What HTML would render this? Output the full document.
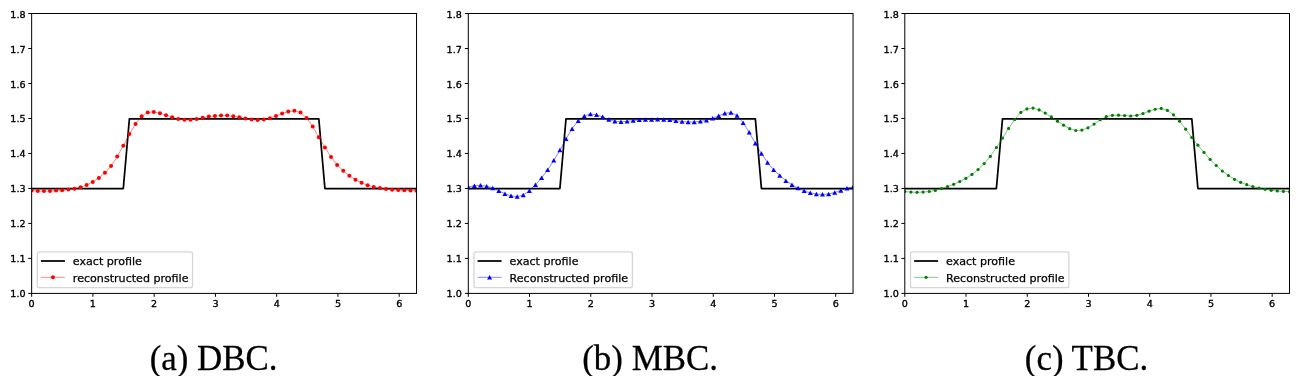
<!DOCTYPE html>
<html><head><meta charset="utf-8"><title>Reconstructed profiles</title>
<style>
html,body{margin:0;padding:0;background:#fff;}
body{width:1300px;height:376px;overflow:hidden;position:relative;}
svg{position:absolute;left:0;top:0;display:block;}
.t{font-family:"DejaVu Sans","Liberation Sans",sans-serif;font-size:9.6px;fill:#000;stroke:#000;stroke-width:0.35px;}
.l{font-family:"DejaVu Sans","Liberation Sans",sans-serif;font-size:11.1px;fill:#000;stroke:#000;stroke-width:0.25px;}
.c{font-family:"Liberation Serif","Times New Roman",serif;font-size:34.9px;fill:#000;stroke:#000;stroke-width:0.25px;}
</style></head><body>
<svg width="1300" height="376" viewBox="0 0 1300 376">
<rect width="1300" height="376" fill="#fff"/>

<g>
<clipPath id="c31"><rect x="31.65" y="13.5" width="384.9" height="279.9"/></clipPath>
<g clip-path="url(#c31)">
<polyline fill="none" stroke="#000" stroke-width="1.75" stroke-linejoin="round" points="31.65,188.5 123.29,188.5 129.4,118.75 318.8,118.75 324.91,188.5 416.55,188.5"/>
<polyline fill="none" stroke="#ff0000" stroke-width="0.48" points="31.65,190.6 37.76,190.97 43.87,191.1 49.98,191 56.09,190.6 62.2,190.2 68.31,189.6 74.42,188.7 80.53,187.2 86.64,185 92.75,181.9 98.85,177.9 104.96,172.7 111.07,166 117.18,156.5 123.29,145.8 129.4,134 135.51,123.9 141.62,116.3 147.73,112.4 153.84,112 159.95,113.2 166.06,115.3 172.17,117.2 178.28,119 184.39,119.8 190.5,119.8 196.61,119 202.72,117.7 208.83,116.6 214.94,116 221.05,115.6 227.15,115.6 233.26,116.3 239.37,117.2 245.48,118.5 251.59,119.6 257.7,119.9 263.81,119.5 269.92,118.2 276.03,116 282.14,113.6 288.25,111.6 294.36,110.8 300.47,112.4 306.58,118 312.69,126.6 318.8,137.2 324.91,147.5 331.02,156.9 337.13,164.9 343.24,170.8 349.35,175.8 355.45,179.75 361.56,182.8 367.67,185.3 373.78,186.9 379.89,188.05 386,189 392.11,189.65 398.22,190.1 404.33,190.3 410.44,190.45 416.55,190.8"/>
<circle cx="31.65" cy="190.6" r="2.0" fill="#ff0000"/>
<circle cx="37.76" cy="190.97" r="2.0" fill="#ff0000"/>
<circle cx="43.87" cy="191.1" r="2.0" fill="#ff0000"/>
<circle cx="49.98" cy="191" r="2.0" fill="#ff0000"/>
<circle cx="56.09" cy="190.6" r="2.0" fill="#ff0000"/>
<circle cx="62.2" cy="190.2" r="2.0" fill="#ff0000"/>
<circle cx="68.31" cy="189.6" r="2.0" fill="#ff0000"/>
<circle cx="74.42" cy="188.7" r="2.0" fill="#ff0000"/>
<circle cx="80.53" cy="187.2" r="2.0" fill="#ff0000"/>
<circle cx="86.64" cy="185" r="2.0" fill="#ff0000"/>
<circle cx="92.75" cy="181.9" r="2.0" fill="#ff0000"/>
<circle cx="98.85" cy="177.9" r="2.0" fill="#ff0000"/>
<circle cx="104.96" cy="172.7" r="2.0" fill="#ff0000"/>
<circle cx="111.07" cy="166" r="2.0" fill="#ff0000"/>
<circle cx="117.18" cy="156.5" r="2.0" fill="#ff0000"/>
<circle cx="123.29" cy="145.8" r="2.0" fill="#ff0000"/>
<circle cx="129.4" cy="134" r="2.0" fill="#ff0000"/>
<circle cx="135.51" cy="123.9" r="2.0" fill="#ff0000"/>
<circle cx="141.62" cy="116.3" r="2.0" fill="#ff0000"/>
<circle cx="147.73" cy="112.4" r="2.0" fill="#ff0000"/>
<circle cx="153.84" cy="112" r="2.0" fill="#ff0000"/>
<circle cx="159.95" cy="113.2" r="2.0" fill="#ff0000"/>
<circle cx="166.06" cy="115.3" r="2.0" fill="#ff0000"/>
<circle cx="172.17" cy="117.2" r="2.0" fill="#ff0000"/>
<circle cx="178.28" cy="119" r="2.0" fill="#ff0000"/>
<circle cx="184.39" cy="119.8" r="2.0" fill="#ff0000"/>
<circle cx="190.5" cy="119.8" r="2.0" fill="#ff0000"/>
<circle cx="196.61" cy="119" r="2.0" fill="#ff0000"/>
<circle cx="202.72" cy="117.7" r="2.0" fill="#ff0000"/>
<circle cx="208.83" cy="116.6" r="2.0" fill="#ff0000"/>
<circle cx="214.94" cy="116" r="2.0" fill="#ff0000"/>
<circle cx="221.05" cy="115.6" r="2.0" fill="#ff0000"/>
<circle cx="227.15" cy="115.6" r="2.0" fill="#ff0000"/>
<circle cx="233.26" cy="116.3" r="2.0" fill="#ff0000"/>
<circle cx="239.37" cy="117.2" r="2.0" fill="#ff0000"/>
<circle cx="245.48" cy="118.5" r="2.0" fill="#ff0000"/>
<circle cx="251.59" cy="119.6" r="2.0" fill="#ff0000"/>
<circle cx="257.7" cy="119.9" r="2.0" fill="#ff0000"/>
<circle cx="263.81" cy="119.5" r="2.0" fill="#ff0000"/>
<circle cx="269.92" cy="118.2" r="2.0" fill="#ff0000"/>
<circle cx="276.03" cy="116" r="2.0" fill="#ff0000"/>
<circle cx="282.14" cy="113.6" r="2.0" fill="#ff0000"/>
<circle cx="288.25" cy="111.6" r="2.0" fill="#ff0000"/>
<circle cx="294.36" cy="110.8" r="2.0" fill="#ff0000"/>
<circle cx="300.47" cy="112.4" r="2.0" fill="#ff0000"/>
<circle cx="306.58" cy="118" r="2.0" fill="#ff0000"/>
<circle cx="312.69" cy="126.6" r="2.0" fill="#ff0000"/>
<circle cx="318.8" cy="137.2" r="2.0" fill="#ff0000"/>
<circle cx="324.91" cy="147.5" r="2.0" fill="#ff0000"/>
<circle cx="331.02" cy="156.9" r="2.0" fill="#ff0000"/>
<circle cx="337.13" cy="164.9" r="2.0" fill="#ff0000"/>
<circle cx="343.24" cy="170.8" r="2.0" fill="#ff0000"/>
<circle cx="349.35" cy="175.8" r="2.0" fill="#ff0000"/>
<circle cx="355.45" cy="179.75" r="2.0" fill="#ff0000"/>
<circle cx="361.56" cy="182.8" r="2.0" fill="#ff0000"/>
<circle cx="367.67" cy="185.3" r="2.0" fill="#ff0000"/>
<circle cx="373.78" cy="186.9" r="2.0" fill="#ff0000"/>
<circle cx="379.89" cy="188.05" r="2.0" fill="#ff0000"/>
<circle cx="386" cy="189" r="2.0" fill="#ff0000"/>
<circle cx="392.11" cy="189.65" r="2.0" fill="#ff0000"/>
<circle cx="398.22" cy="190.1" r="2.0" fill="#ff0000"/>
<circle cx="404.33" cy="190.3" r="2.0" fill="#ff0000"/>
<circle cx="410.44" cy="190.45" r="2.0" fill="#ff0000"/>
<circle cx="416.55" cy="190.8" r="2.0" fill="#ff0000"/>
</g>
<rect x="31.65" y="13.5" width="384.9" height="279.9" fill="none" stroke="#000" stroke-width="1"/>
<line x1="31.65" y1="293.4" x2="31.65" y2="296.8" stroke="#000" stroke-width="1"/>
<text class="t" transform="translate(31.65 307.25) scale(1 0.925)" text-anchor="middle">0</text>
<line x1="92.91" y1="293.4" x2="92.91" y2="296.8" stroke="#000" stroke-width="1"/>
<text class="t" transform="translate(92.91 307.25) scale(1 0.925)" text-anchor="middle">1</text>
<line x1="154.17" y1="293.4" x2="154.17" y2="296.8" stroke="#000" stroke-width="1"/>
<text class="t" transform="translate(154.17 307.25) scale(1 0.925)" text-anchor="middle">2</text>
<line x1="215.43" y1="293.4" x2="215.43" y2="296.8" stroke="#000" stroke-width="1"/>
<text class="t" transform="translate(215.43 307.25) scale(1 0.925)" text-anchor="middle">3</text>
<line x1="276.68" y1="293.4" x2="276.68" y2="296.8" stroke="#000" stroke-width="1"/>
<text class="t" transform="translate(276.68 307.25) scale(1 0.925)" text-anchor="middle">4</text>
<line x1="337.94" y1="293.4" x2="337.94" y2="296.8" stroke="#000" stroke-width="1"/>
<text class="t" transform="translate(337.94 307.25) scale(1 0.925)" text-anchor="middle">5</text>
<line x1="399.2" y1="293.4" x2="399.2" y2="296.8" stroke="#000" stroke-width="1"/>
<text class="t" transform="translate(399.2 307.25) scale(1 0.925)" text-anchor="middle">6</text>
<line x1="28.25" y1="293.4" x2="31.65" y2="293.4" stroke="#000" stroke-width="1"/>
<text class="t" transform="translate(25.55 297.05) scale(1 0.925)" text-anchor="end">1.0</text>
<line x1="28.25" y1="258.41" x2="31.65" y2="258.41" stroke="#000" stroke-width="1"/>
<text class="t" transform="translate(25.55 262.14) scale(1 0.925)" text-anchor="end">1.1</text>
<line x1="28.25" y1="223.43" x2="31.65" y2="223.43" stroke="#000" stroke-width="1"/>
<text class="t" transform="translate(25.55 227.23) scale(1 0.925)" text-anchor="end">1.2</text>
<line x1="28.25" y1="188.44" x2="31.65" y2="188.44" stroke="#000" stroke-width="1"/>
<text class="t" transform="translate(25.55 192.31) scale(1 0.925)" text-anchor="end">1.3</text>
<line x1="28.25" y1="153.45" x2="31.65" y2="153.45" stroke="#000" stroke-width="1"/>
<text class="t" transform="translate(25.55 157.4) scale(1 0.925)" text-anchor="end">1.4</text>
<line x1="28.25" y1="118.46" x2="31.65" y2="118.46" stroke="#000" stroke-width="1"/>
<text class="t" transform="translate(25.55 122.49) scale(1 0.925)" text-anchor="end">1.5</text>
<line x1="28.25" y1="83.47" x2="31.65" y2="83.47" stroke="#000" stroke-width="1"/>
<text class="t" transform="translate(25.55 87.57) scale(1 0.925)" text-anchor="end">1.6</text>
<line x1="28.25" y1="48.49" x2="31.65" y2="48.49" stroke="#000" stroke-width="1"/>
<text class="t" transform="translate(25.55 52.66) scale(1 0.925)" text-anchor="end">1.7</text>
<line x1="28.25" y1="13.5" x2="31.65" y2="13.5" stroke="#000" stroke-width="1"/>
<text class="t" transform="translate(25.55 17.75) scale(1 0.925)" text-anchor="end">1.8</text>
<rect x="37.35" y="251.95" width="155.2" height="35.7" rx="2.2" ry="2.2" fill="#fff" fill-opacity="0.8" stroke="#ccc" stroke-opacity="0.8" stroke-width="1.3"/>
<line x1="40.95" y1="261" x2="64.95" y2="261" stroke="#000" stroke-width="1.75"/>
<line x1="40.95" y1="277.3" x2="64.95" y2="277.3" stroke="#ff0000" stroke-width="0.48"/>
<circle cx="52.95" cy="277.3" r="2.0" fill="#ff0000"/>
<text class="l" x="72.85" y="265.2">exact profile</text>
<text class="l" x="72.85" y="281.5">reconstructed profile</text>
<text class="c" transform="translate(213.6 369.8) scale(1 1.02)" x="0" y="0" text-anchor="middle">(a) DBC.</text>
</g>
<g>
<clipPath id="c468"><rect x="468.3" y="13.5" width="384.75" height="279.9"/></clipPath>
<g clip-path="url(#c468)">
<polyline fill="none" stroke="#000" stroke-width="1.75" stroke-linejoin="round" points="468.3,188.5 559.91,188.5 566.01,118.75 755.34,118.75 761.44,188.5 853.05,188.5"/>
<polyline fill="none" stroke="#0000ff" stroke-width="0.48" points="468.3,187 474.41,185.7 480.51,185.4 486.62,186.2 492.73,188 498.84,190.8 504.94,193.7 511.05,195.9 517.16,196.6 523.26,195 529.37,190.8 535.48,184.9 541.59,177.9 547.69,169.8 553.8,160.4 559.91,150.1 566.01,138.8 572.12,128.7 578.23,120.7 584.34,116 590.44,114 596.55,114.8 602.66,116.9 608.76,119.6 614.87,121.2 620.98,121.85 627.09,121.4 633.19,120.6 639.3,119.9 645.41,119.6 651.51,119.5 657.62,119.3 663.73,119.5 669.84,119.9 675.94,120.7 682.05,121.5 688.16,122 694.26,122 700.37,121.4 706.48,120.3 712.59,118.3 718.69,115.8 724.8,113.4 730.91,112.6 737.01,115.6 743.12,122.7 749.23,132.4 755.34,143.2 761.44,153.6 767.55,162.5 773.66,169.9 779.76,175.6 785.87,180.7 791.98,184.9 798.09,188.1 804.19,190.9 810.3,192.9 816.41,194.1 822.51,194.4 828.62,194 834.73,192.5 840.84,190.5 846.94,188.2 853.05,187"/>
<path d="M468.3 184.7L465.8 189.2L470.8 189.2Z" fill="#0000ff"/>
<path d="M474.41 183.4L471.91 187.9L476.91 187.9Z" fill="#0000ff"/>
<path d="M480.51 183.1L478.01 187.6L483.01 187.6Z" fill="#0000ff"/>
<path d="M486.62 183.9L484.12 188.4L489.12 188.4Z" fill="#0000ff"/>
<path d="M492.73 185.7L490.23 190.2L495.23 190.2Z" fill="#0000ff"/>
<path d="M498.84 188.5L496.34 193L501.34 193Z" fill="#0000ff"/>
<path d="M504.94 191.4L502.44 195.9L507.44 195.9Z" fill="#0000ff"/>
<path d="M511.05 193.6L508.55 198.1L513.55 198.1Z" fill="#0000ff"/>
<path d="M517.16 194.3L514.66 198.8L519.66 198.8Z" fill="#0000ff"/>
<path d="M523.26 192.7L520.76 197.2L525.76 197.2Z" fill="#0000ff"/>
<path d="M529.37 188.5L526.87 193L531.87 193Z" fill="#0000ff"/>
<path d="M535.48 182.6L532.98 187.1L537.98 187.1Z" fill="#0000ff"/>
<path d="M541.59 175.6L539.09 180.1L544.09 180.1Z" fill="#0000ff"/>
<path d="M547.69 167.5L545.19 172L550.19 172Z" fill="#0000ff"/>
<path d="M553.8 158.1L551.3 162.6L556.3 162.6Z" fill="#0000ff"/>
<path d="M559.91 147.8L557.41 152.3L562.41 152.3Z" fill="#0000ff"/>
<path d="M566.01 136.5L563.51 141L568.51 141Z" fill="#0000ff"/>
<path d="M572.12 126.4L569.62 130.9L574.62 130.9Z" fill="#0000ff"/>
<path d="M578.23 118.4L575.73 122.9L580.73 122.9Z" fill="#0000ff"/>
<path d="M584.34 113.7L581.84 118.2L586.84 118.2Z" fill="#0000ff"/>
<path d="M590.44 111.7L587.94 116.2L592.94 116.2Z" fill="#0000ff"/>
<path d="M596.55 112.5L594.05 117L599.05 117Z" fill="#0000ff"/>
<path d="M602.66 114.6L600.16 119.1L605.16 119.1Z" fill="#0000ff"/>
<path d="M608.76 117.3L606.26 121.8L611.26 121.8Z" fill="#0000ff"/>
<path d="M614.87 118.9L612.37 123.4L617.37 123.4Z" fill="#0000ff"/>
<path d="M620.98 119.55L618.48 124.05L623.48 124.05Z" fill="#0000ff"/>
<path d="M627.09 119.1L624.59 123.6L629.59 123.6Z" fill="#0000ff"/>
<path d="M633.19 118.3L630.69 122.8L635.69 122.8Z" fill="#0000ff"/>
<path d="M639.3 117.6L636.8 122.1L641.8 122.1Z" fill="#0000ff"/>
<path d="M645.41 117.3L642.91 121.8L647.91 121.8Z" fill="#0000ff"/>
<path d="M651.51 117.2L649.01 121.7L654.01 121.7Z" fill="#0000ff"/>
<path d="M657.62 117L655.12 121.5L660.12 121.5Z" fill="#0000ff"/>
<path d="M663.73 117.2L661.23 121.7L666.23 121.7Z" fill="#0000ff"/>
<path d="M669.84 117.6L667.34 122.1L672.34 122.1Z" fill="#0000ff"/>
<path d="M675.94 118.4L673.44 122.9L678.44 122.9Z" fill="#0000ff"/>
<path d="M682.05 119.2L679.55 123.7L684.55 123.7Z" fill="#0000ff"/>
<path d="M688.16 119.7L685.66 124.2L690.66 124.2Z" fill="#0000ff"/>
<path d="M694.26 119.7L691.76 124.2L696.76 124.2Z" fill="#0000ff"/>
<path d="M700.37 119.1L697.87 123.6L702.87 123.6Z" fill="#0000ff"/>
<path d="M706.48 118L703.98 122.5L708.98 122.5Z" fill="#0000ff"/>
<path d="M712.59 116L710.09 120.5L715.09 120.5Z" fill="#0000ff"/>
<path d="M718.69 113.5L716.19 118L721.19 118Z" fill="#0000ff"/>
<path d="M724.8 111.1L722.3 115.6L727.3 115.6Z" fill="#0000ff"/>
<path d="M730.91 110.3L728.41 114.8L733.41 114.8Z" fill="#0000ff"/>
<path d="M737.01 113.3L734.51 117.8L739.51 117.8Z" fill="#0000ff"/>
<path d="M743.12 120.4L740.62 124.9L745.62 124.9Z" fill="#0000ff"/>
<path d="M749.23 130.1L746.73 134.6L751.73 134.6Z" fill="#0000ff"/>
<path d="M755.34 140.9L752.84 145.4L757.84 145.4Z" fill="#0000ff"/>
<path d="M761.44 151.3L758.94 155.8L763.94 155.8Z" fill="#0000ff"/>
<path d="M767.55 160.2L765.05 164.7L770.05 164.7Z" fill="#0000ff"/>
<path d="M773.66 167.6L771.16 172.1L776.16 172.1Z" fill="#0000ff"/>
<path d="M779.76 173.3L777.26 177.8L782.26 177.8Z" fill="#0000ff"/>
<path d="M785.87 178.4L783.37 182.9L788.37 182.9Z" fill="#0000ff"/>
<path d="M791.98 182.6L789.48 187.1L794.48 187.1Z" fill="#0000ff"/>
<path d="M798.09 185.8L795.59 190.3L800.59 190.3Z" fill="#0000ff"/>
<path d="M804.19 188.6L801.69 193.1L806.69 193.1Z" fill="#0000ff"/>
<path d="M810.3 190.6L807.8 195.1L812.8 195.1Z" fill="#0000ff"/>
<path d="M816.41 191.8L813.91 196.3L818.91 196.3Z" fill="#0000ff"/>
<path d="M822.51 192.1L820.01 196.6L825.01 196.6Z" fill="#0000ff"/>
<path d="M828.62 191.7L826.12 196.2L831.12 196.2Z" fill="#0000ff"/>
<path d="M834.73 190.2L832.23 194.7L837.23 194.7Z" fill="#0000ff"/>
<path d="M840.84 188.2L838.34 192.7L843.34 192.7Z" fill="#0000ff"/>
<path d="M846.94 185.9L844.44 190.4L849.44 190.4Z" fill="#0000ff"/>
<path d="M853.05 184.7L850.55 189.2L855.55 189.2Z" fill="#0000ff"/>
</g>
<rect x="468.3" y="13.5" width="384.75" height="279.9" fill="none" stroke="#000" stroke-width="1"/>
<line x1="468.3" y1="293.4" x2="468.3" y2="296.8" stroke="#000" stroke-width="1"/>
<text class="t" transform="translate(468.3 307.25) scale(1 0.925)" text-anchor="middle">0</text>
<line x1="529.53" y1="293.4" x2="529.53" y2="296.8" stroke="#000" stroke-width="1"/>
<text class="t" transform="translate(529.53 307.25) scale(1 0.925)" text-anchor="middle">1</text>
<line x1="590.77" y1="293.4" x2="590.77" y2="296.8" stroke="#000" stroke-width="1"/>
<text class="t" transform="translate(590.77 307.25) scale(1 0.925)" text-anchor="middle">2</text>
<line x1="652" y1="293.4" x2="652" y2="296.8" stroke="#000" stroke-width="1"/>
<text class="t" transform="translate(652 307.25) scale(1 0.925)" text-anchor="middle">3</text>
<line x1="713.24" y1="293.4" x2="713.24" y2="296.8" stroke="#000" stroke-width="1"/>
<text class="t" transform="translate(713.24 307.25) scale(1 0.925)" text-anchor="middle">4</text>
<line x1="774.47" y1="293.4" x2="774.47" y2="296.8" stroke="#000" stroke-width="1"/>
<text class="t" transform="translate(774.47 307.25) scale(1 0.925)" text-anchor="middle">5</text>
<line x1="835.71" y1="293.4" x2="835.71" y2="296.8" stroke="#000" stroke-width="1"/>
<text class="t" transform="translate(835.71 307.25) scale(1 0.925)" text-anchor="middle">6</text>
<line x1="464.9" y1="293.4" x2="468.3" y2="293.4" stroke="#000" stroke-width="1"/>
<text class="t" transform="translate(461.8 297.05) scale(1 0.925)" text-anchor="end">1.0</text>
<line x1="464.9" y1="258.41" x2="468.3" y2="258.41" stroke="#000" stroke-width="1"/>
<text class="t" transform="translate(461.8 262.14) scale(1 0.925)" text-anchor="end">1.1</text>
<line x1="464.9" y1="223.43" x2="468.3" y2="223.43" stroke="#000" stroke-width="1"/>
<text class="t" transform="translate(461.8 227.23) scale(1 0.925)" text-anchor="end">1.2</text>
<line x1="464.9" y1="188.44" x2="468.3" y2="188.44" stroke="#000" stroke-width="1"/>
<text class="t" transform="translate(461.8 192.31) scale(1 0.925)" text-anchor="end">1.3</text>
<line x1="464.9" y1="153.45" x2="468.3" y2="153.45" stroke="#000" stroke-width="1"/>
<text class="t" transform="translate(461.8 157.4) scale(1 0.925)" text-anchor="end">1.4</text>
<line x1="464.9" y1="118.46" x2="468.3" y2="118.46" stroke="#000" stroke-width="1"/>
<text class="t" transform="translate(461.8 122.49) scale(1 0.925)" text-anchor="end">1.5</text>
<line x1="464.9" y1="83.47" x2="468.3" y2="83.47" stroke="#000" stroke-width="1"/>
<text class="t" transform="translate(461.8 87.57) scale(1 0.925)" text-anchor="end">1.6</text>
<line x1="464.9" y1="48.49" x2="468.3" y2="48.49" stroke="#000" stroke-width="1"/>
<text class="t" transform="translate(461.8 52.66) scale(1 0.925)" text-anchor="end">1.7</text>
<line x1="464.9" y1="13.5" x2="468.3" y2="13.5" stroke="#000" stroke-width="1"/>
<text class="t" transform="translate(461.8 17.75) scale(1 0.925)" text-anchor="end">1.8</text>
<rect x="474" y="251.95" width="158.4" height="35.7" rx="2.2" ry="2.2" fill="#fff" fill-opacity="0.8" stroke="#ccc" stroke-opacity="0.8" stroke-width="1.3"/>
<line x1="477.6" y1="261" x2="501.6" y2="261" stroke="#000" stroke-width="1.75"/>
<line x1="477.6" y1="277.3" x2="501.6" y2="277.3" stroke="#0000ff" stroke-width="0.48"/>
<path d="M489.6 275L487.1 279.5L492.1 279.5Z" fill="#0000ff"/>
<text class="l" x="509.5" y="265.2">exact profile</text>
<text class="l" x="509.5" y="281.5">Reconstructed profile</text>
<text class="c" transform="translate(650.1 369.8) scale(1 1.02)" x="0" y="0" text-anchor="middle">(b) MBC.</text>
</g>
<g>
<clipPath id="c904"><rect x="904.8" y="13.5" width="384.7" height="279.9"/></clipPath>
<g clip-path="url(#c904)">
<polyline fill="none" stroke="#000" stroke-width="1.75" stroke-linejoin="round" points="904.8,188.5 996.4,188.5 1002.5,118.75 1191.8,118.75 1197.9,188.5 1289.5,188.5"/>
<polyline fill="none" stroke="#008000" stroke-width="0.48" points="904.8,191.6 910.91,192.1 917.01,192.3 923.12,192.1 929.23,191.5 935.33,190.4 941.44,188.6 947.54,186.7 953.65,184.3 959.76,181.6 965.86,178.4 971.97,174.4 978.08,169.6 984.18,163.6 990.29,156.4 996.4,147.5 1002.5,138.1 1008.61,128.4 1014.71,119.5 1020.82,112.4 1026.93,108.9 1033.03,108.1 1039.14,109.9 1045.25,113.1 1051.35,116.9 1057.46,121.2 1063.57,125.2 1069.67,128.7 1075.78,130.5 1081.88,130.1 1087.99,127.8 1094.1,124.1 1100.2,119.8 1106.31,116.6 1112.42,115.3 1118.52,115.15 1124.63,115.6 1130.73,116 1136.84,115.3 1142.95,113.6 1149.05,111.2 1155.16,109.25 1161.27,108.45 1167.37,110.4 1173.48,114.8 1179.59,121.2 1185.69,129.2 1191.8,137.5 1197.9,145.2 1204.01,152.4 1210.12,159.4 1216.22,165.5 1222.33,171.1 1228.44,175.6 1234.54,179.3 1240.65,182.3 1246.76,184.7 1252.86,186.6 1258.97,188.05 1265.07,189.3 1271.18,190.3 1277.29,190.9 1283.39,191.4 1289.5,191.7"/>
<circle cx="904.8" cy="191.6" r="1.6" fill="#008000"/>
<circle cx="910.91" cy="192.1" r="1.6" fill="#008000"/>
<circle cx="917.01" cy="192.3" r="1.6" fill="#008000"/>
<circle cx="923.12" cy="192.1" r="1.6" fill="#008000"/>
<circle cx="929.23" cy="191.5" r="1.6" fill="#008000"/>
<circle cx="935.33" cy="190.4" r="1.6" fill="#008000"/>
<circle cx="941.44" cy="188.6" r="1.6" fill="#008000"/>
<circle cx="947.54" cy="186.7" r="1.6" fill="#008000"/>
<circle cx="953.65" cy="184.3" r="1.6" fill="#008000"/>
<circle cx="959.76" cy="181.6" r="1.6" fill="#008000"/>
<circle cx="965.86" cy="178.4" r="1.6" fill="#008000"/>
<circle cx="971.97" cy="174.4" r="1.6" fill="#008000"/>
<circle cx="978.08" cy="169.6" r="1.6" fill="#008000"/>
<circle cx="984.18" cy="163.6" r="1.6" fill="#008000"/>
<circle cx="990.29" cy="156.4" r="1.6" fill="#008000"/>
<circle cx="996.4" cy="147.5" r="1.6" fill="#008000"/>
<circle cx="1002.5" cy="138.1" r="1.6" fill="#008000"/>
<circle cx="1008.61" cy="128.4" r="1.6" fill="#008000"/>
<circle cx="1014.71" cy="119.5" r="1.6" fill="#008000"/>
<circle cx="1020.82" cy="112.4" r="1.6" fill="#008000"/>
<circle cx="1026.93" cy="108.9" r="1.6" fill="#008000"/>
<circle cx="1033.03" cy="108.1" r="1.6" fill="#008000"/>
<circle cx="1039.14" cy="109.9" r="1.6" fill="#008000"/>
<circle cx="1045.25" cy="113.1" r="1.6" fill="#008000"/>
<circle cx="1051.35" cy="116.9" r="1.6" fill="#008000"/>
<circle cx="1057.46" cy="121.2" r="1.6" fill="#008000"/>
<circle cx="1063.57" cy="125.2" r="1.6" fill="#008000"/>
<circle cx="1069.67" cy="128.7" r="1.6" fill="#008000"/>
<circle cx="1075.78" cy="130.5" r="1.6" fill="#008000"/>
<circle cx="1081.88" cy="130.1" r="1.6" fill="#008000"/>
<circle cx="1087.99" cy="127.8" r="1.6" fill="#008000"/>
<circle cx="1094.1" cy="124.1" r="1.6" fill="#008000"/>
<circle cx="1100.2" cy="119.8" r="1.6" fill="#008000"/>
<circle cx="1106.31" cy="116.6" r="1.6" fill="#008000"/>
<circle cx="1112.42" cy="115.3" r="1.6" fill="#008000"/>
<circle cx="1118.52" cy="115.15" r="1.6" fill="#008000"/>
<circle cx="1124.63" cy="115.6" r="1.6" fill="#008000"/>
<circle cx="1130.73" cy="116" r="1.6" fill="#008000"/>
<circle cx="1136.84" cy="115.3" r="1.6" fill="#008000"/>
<circle cx="1142.95" cy="113.6" r="1.6" fill="#008000"/>
<circle cx="1149.05" cy="111.2" r="1.6" fill="#008000"/>
<circle cx="1155.16" cy="109.25" r="1.6" fill="#008000"/>
<circle cx="1161.27" cy="108.45" r="1.6" fill="#008000"/>
<circle cx="1167.37" cy="110.4" r="1.6" fill="#008000"/>
<circle cx="1173.48" cy="114.8" r="1.6" fill="#008000"/>
<circle cx="1179.59" cy="121.2" r="1.6" fill="#008000"/>
<circle cx="1185.69" cy="129.2" r="1.6" fill="#008000"/>
<circle cx="1191.8" cy="137.5" r="1.6" fill="#008000"/>
<circle cx="1197.9" cy="145.2" r="1.6" fill="#008000"/>
<circle cx="1204.01" cy="152.4" r="1.6" fill="#008000"/>
<circle cx="1210.12" cy="159.4" r="1.6" fill="#008000"/>
<circle cx="1216.22" cy="165.5" r="1.6" fill="#008000"/>
<circle cx="1222.33" cy="171.1" r="1.6" fill="#008000"/>
<circle cx="1228.44" cy="175.6" r="1.6" fill="#008000"/>
<circle cx="1234.54" cy="179.3" r="1.6" fill="#008000"/>
<circle cx="1240.65" cy="182.3" r="1.6" fill="#008000"/>
<circle cx="1246.76" cy="184.7" r="1.6" fill="#008000"/>
<circle cx="1252.86" cy="186.6" r="1.6" fill="#008000"/>
<circle cx="1258.97" cy="188.05" r="1.6" fill="#008000"/>
<circle cx="1265.07" cy="189.3" r="1.6" fill="#008000"/>
<circle cx="1271.18" cy="190.3" r="1.6" fill="#008000"/>
<circle cx="1277.29" cy="190.9" r="1.6" fill="#008000"/>
<circle cx="1283.39" cy="191.4" r="1.6" fill="#008000"/>
<circle cx="1289.5" cy="191.7" r="1.6" fill="#008000"/>
</g>
<rect x="904.8" y="13.5" width="384.7" height="279.9" fill="none" stroke="#000" stroke-width="1"/>
<line x1="904.8" y1="293.4" x2="904.8" y2="296.8" stroke="#000" stroke-width="1"/>
<text class="t" transform="translate(904.8 307.25) scale(1 0.925)" text-anchor="middle">0</text>
<line x1="966.03" y1="293.4" x2="966.03" y2="296.8" stroke="#000" stroke-width="1"/>
<text class="t" transform="translate(966.03 307.25) scale(1 0.925)" text-anchor="middle">1</text>
<line x1="1027.25" y1="293.4" x2="1027.25" y2="296.8" stroke="#000" stroke-width="1"/>
<text class="t" transform="translate(1027.25 307.25) scale(1 0.925)" text-anchor="middle">2</text>
<line x1="1088.48" y1="293.4" x2="1088.48" y2="296.8" stroke="#000" stroke-width="1"/>
<text class="t" transform="translate(1088.48 307.25) scale(1 0.925)" text-anchor="middle">3</text>
<line x1="1149.71" y1="293.4" x2="1149.71" y2="296.8" stroke="#000" stroke-width="1"/>
<text class="t" transform="translate(1149.71 307.25) scale(1 0.925)" text-anchor="middle">4</text>
<line x1="1210.93" y1="293.4" x2="1210.93" y2="296.8" stroke="#000" stroke-width="1"/>
<text class="t" transform="translate(1210.93 307.25) scale(1 0.925)" text-anchor="middle">5</text>
<line x1="1272.16" y1="293.4" x2="1272.16" y2="296.8" stroke="#000" stroke-width="1"/>
<text class="t" transform="translate(1272.16 307.25) scale(1 0.925)" text-anchor="middle">6</text>
<line x1="901.4" y1="293.4" x2="904.8" y2="293.4" stroke="#000" stroke-width="1"/>
<text class="t" transform="translate(898.8 297.05) scale(1 0.925)" text-anchor="end">1.0</text>
<line x1="901.4" y1="258.41" x2="904.8" y2="258.41" stroke="#000" stroke-width="1"/>
<text class="t" transform="translate(898.8 262.14) scale(1 0.925)" text-anchor="end">1.1</text>
<line x1="901.4" y1="223.43" x2="904.8" y2="223.43" stroke="#000" stroke-width="1"/>
<text class="t" transform="translate(898.8 227.23) scale(1 0.925)" text-anchor="end">1.2</text>
<line x1="901.4" y1="188.44" x2="904.8" y2="188.44" stroke="#000" stroke-width="1"/>
<text class="t" transform="translate(898.8 192.31) scale(1 0.925)" text-anchor="end">1.3</text>
<line x1="901.4" y1="153.45" x2="904.8" y2="153.45" stroke="#000" stroke-width="1"/>
<text class="t" transform="translate(898.8 157.4) scale(1 0.925)" text-anchor="end">1.4</text>
<line x1="901.4" y1="118.46" x2="904.8" y2="118.46" stroke="#000" stroke-width="1"/>
<text class="t" transform="translate(898.8 122.49) scale(1 0.925)" text-anchor="end">1.5</text>
<line x1="901.4" y1="83.47" x2="904.8" y2="83.47" stroke="#000" stroke-width="1"/>
<text class="t" transform="translate(898.8 87.57) scale(1 0.925)" text-anchor="end">1.6</text>
<line x1="901.4" y1="48.49" x2="904.8" y2="48.49" stroke="#000" stroke-width="1"/>
<text class="t" transform="translate(898.8 52.66) scale(1 0.925)" text-anchor="end">1.7</text>
<line x1="901.4" y1="13.5" x2="904.8" y2="13.5" stroke="#000" stroke-width="1"/>
<text class="t" transform="translate(898.8 17.75) scale(1 0.925)" text-anchor="end">1.8</text>
<rect x="910.5" y="251.95" width="158.4" height="35.7" rx="2.2" ry="2.2" fill="#fff" fill-opacity="0.8" stroke="#ccc" stroke-opacity="0.8" stroke-width="1.3"/>
<line x1="914.1" y1="261" x2="938.1" y2="261" stroke="#000" stroke-width="1.75"/>
<line x1="914.1" y1="277.3" x2="938.1" y2="277.3" stroke="#008000" stroke-width="0.48"/>
<circle cx="926.1" cy="277.3" r="1.6" fill="#008000"/>
<text class="l" x="946" y="265.2">exact profile</text>
<text class="l" x="946" y="281.5">Reconstructed profile</text>
<text class="c" transform="translate(1086.5 369.8) scale(1 1.02)" x="0" y="0" text-anchor="middle">(c) TBC.</text>
</g>
</svg>
</body></html>
